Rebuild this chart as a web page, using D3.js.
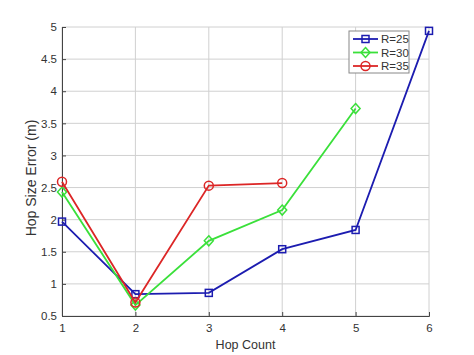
<!DOCTYPE html>
<html><head><meta charset="utf-8">
<script src="https://cdn.jsdelivr.net/npm/d3@7"></script>
<style>body{margin:0;background:#fff}svg{display:block}text{font-family:"Liberation Sans",Arial,sans-serif}</style>
</head><body><svg id="c" width="474" height="355"></svg>
<script>
const hops = [1,2,3,4,5,6];
const r25 = [1.97,0.84,0.86,1.54,1.84,4.94];
const r30 = [2.43,0.67,1.67,2.15,3.73];
const r35 = [2.59,0.71,2.53,2.57];
const seriesNames = ["R=25","R=30","R=35"];
const yTicks = [0.5,1,1.5,2,2.5,3,3.5,4,4.5,5];

const svg = d3.select("#c");
const L=62,R=429,T=27,B=316;
const x = d3.scaleLinear().domain([1,6]).range([L,R]);
const y = d3.scaleLinear().domain([0.5,5]).range([B,T]);
const gridC="#d0d0d0";
const g=svg.append("g");
// grid
g.selectAll(".gx").data(hops).enter().append("line").attr("x1",d=>x(d)).attr("x2",d=>x(d)).attr("y1",T).attr("y2",B).attr("stroke",gridC).attr("stroke-width",1);
g.selectAll(".gy").data(yTicks).enter().append("line").attr("x1",L).attr("x2",R).attr("y1",d=>y(d)).attr("y2",d=>y(d)).attr("stroke",gridC).attr("stroke-width",1);
// axes
const xa=svg.append("g").attr("transform",`translate(0,${B})`).call(d3.axisBottom(x).tickValues(hops).tickFormat(d3.format("d")).tickSize(-4).tickPadding(8));
const ya=svg.append("g").attr("transform",`translate(${L},0)`).call(d3.axisLeft(y).tickValues(yTicks).tickFormat(d=>String(d)).tickSize(-4).tickPadding(5));
[xa,ya].forEach(a=>{a.select(".domain").attr("stroke","#444");a.selectAll(".tick line").attr("stroke","#444");a.selectAll("text").attr("fill","#333").attr("font-size",11.5);});
svg.append("text").attr("x",(L+R)/2).attr("y",349).attr("text-anchor","middle").attr("font-size",12.5).attr("fill","#333").text("Hop Count");
svg.append("text").attr("transform",`translate(36,178) rotate(-90)`).attr("text-anchor","middle").attr("font-size",14).attr("fill","#333").text("Hop Size Error (m)");

const colors=["#1c1cb0","#3ae03a","#dc2626"];
const data=[r25,r30,r35];
const line=d3.line().x((d,i)=>x(hops[i])).y(d=>y(d));
function marker(sel,type,c){
  if(type===0) sel.append("rect").attr("x",-3.5).attr("y",-3.5).attr("width",7).attr("height",7);
  else if(type===1) sel.append("path").attr("d","M0,-5L4.5,0L0,5L-4.5,0Z");
  else sel.append("circle").attr("r",4.5);
  sel.selectAll("*").attr("fill","none").attr("stroke",c).attr("stroke-width",1.5);
}
data.forEach((s,k)=>{
  svg.append("path").datum(s).attr("d",line).attr("fill","none").attr("stroke",colors[k]).attr("stroke-width",1.8);
  s.forEach((v,i)=>{const m=svg.append("g").attr("transform",`translate(${x(hops[i])},${y(v)})`);marker(m,k,colors[k]);});
});
// legend
const lg=svg.append("g");
lg.append("rect").attr("x",349).attr("y",31).attr("width",60).attr("height",42).attr("fill","#fff").attr("stroke","#888").attr("stroke-width",1);
seriesNames.forEach((n,k)=>{
  const yy=39+k*13.5;
  lg.append("line").attr("x1",353).attr("x2",378).attr("y1",yy).attr("y2",yy).attr("stroke",colors[k]).attr("stroke-width",1.8);
  const m=lg.append("g").attr("transform",`translate(365.5,${yy})`);marker(m,k,colors[k]);
  lg.append("text").attr("x",381).attr("y",yy+4).attr("font-size",11.5).attr("fill","#333").text(n);
});
</script></body></html>
